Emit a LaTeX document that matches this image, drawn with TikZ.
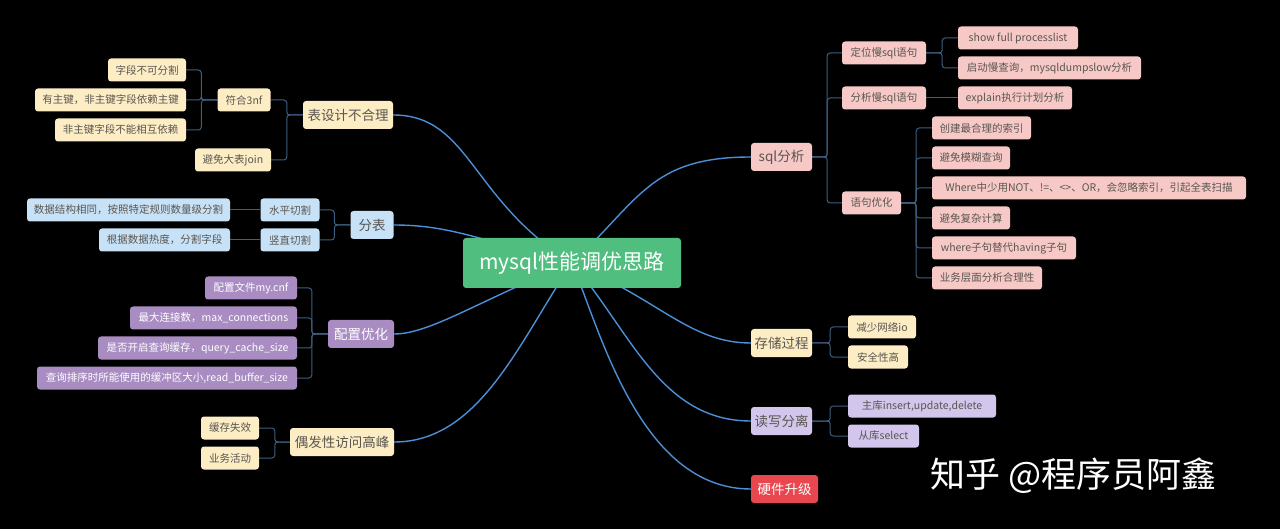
\documentclass[tikz,border=0pt]{standalone}
\usepackage{fontspec}
\setmainfont{Noto Sans CJK SC}
\usetikzlibrary{calc}
\pgfdeclarelayer{back}
\pgfdeclarelayer{bg}
\pgfsetlayers{back,bg,main}
\definecolor{beige}{HTML}{FCEDC5}
\definecolor{lblue}{HTML}{C7E2F7}
\definecolor{purp}{HTML}{A88CC2}
\definecolor{pinkc}{HTML}{F6C9C6}
\definecolor{lav}{HTML}{D3C6EC}
\definecolor{greenc}{HTML}{4FBE7E}
\definecolor{redc}{HTML}{E8474F}
\definecolor{mainln}{HTML}{4A8FD8}
\definecolor{brln}{HTML}{3D5F82}
\definecolor{txt}{HTML}{5A5550}
\begin{document}
\begin{tikzpicture}[x=1pt,y=-1pt,
  box/.style={rounded corners=3pt,inner sep=0pt,minimum height=23pt,text=txt,font=\fontsize{10.5}{12}\selectfont,anchor=center},
  lone/.style={box,minimum height=28pt,font=\fontsize{13.5}{15}\selectfont},
  mln/.style={draw=mainln,line width=1.4pt},
  br/.style={draw=brln,line width=1pt,rounded corners=3pt}]
\begin{pgfonlayer}{back}
\fill[black] (0,0) rectangle (1280,529);
\end{pgfonlayer}
\useasboundingbox (0,0) rectangle (1280,529);
% center
\node[box,fill=greenc,text=white,minimum width=218pt,minimum height=50pt,font=\fontsize{21}{24}\selectfont] (c) at (572,263) {mysql性能调优思路};
% left
\node[lone,fill=beige,minimum width=90pt] (tb) at (348,115) {表设计不合理};
\node[box,fill=beige,minimum width=53pt] (nf) at (244,100) {符合3nf};
\node[box,fill=beige,minimum width=78pt] (a1) at (147,70) {字段不可分割};
\node[box,fill=beige,minimum width=151pt] (a2) at (110.5,100) {有主键，非主键字段依赖主键};
\node[box,fill=beige,minimum width=131pt] (a3) at (120.5,130) {非主键字段不能相互依赖};
\node[box,fill=beige,minimum width=76pt] (a4) at (233,160) {避免大表join};
\node[lone,fill=lblue,minimum width=43pt] (fb) at (372,225) {分表};
\node[box,fill=lblue,minimum width=59pt] (sp) at (290,210) {水平切割};
\node[box,fill=lblue,minimum width=59pt] (cz) at (290,240) {竖直切割};
\node[box,fill=lblue,minimum width=203pt] (b1) at (128.5,210) {数据结构相同，按照特定规则数量级分割};
\node[box,fill=lblue,minimum width=131pt] (b2) at (164.5,240) {根据数据热度，分割字段};
\node[lone,fill=purp,text=white,minimum width=66pt] (pz) at (361,334) {配置优化};
\node[box,fill=purp,text=white,minimum width=92pt] (p1) at (251,288) {配置文件my.cnf};
\node[box,fill=purp,text=white,minimum width=167pt] (p2) at (213.5,318) {最大连接数，max\_connections};
\node[box,fill=purp,text=white,minimum width=199pt] (p3) at (197.5,348) {是否开启查询缓存，query\_cache\_size};
\node[box,fill=purp,text=white,minimum width=260pt] (p4) at (167,378) {查询排序时所能使用的缓冲区大小,read\_buffer\_size};
\node[lone,fill=beige,minimum width=104pt] (of) at (342,442) {偶发性访问高峰};
\node[box,fill=beige,minimum width=58pt] (o1) at (230,428) {缓存失效};
\node[box,fill=beige,minimum width=58pt] (o2) at (230,458) {业务活动};
% right
\node[lone,fill=pinkc,minimum width=61pt] (sq) at (781.5,157) {sql分析};
\node[box,fill=pinkc,minimum width=84pt] (dw) at (884,53) {定位慢sql语句};
\node[box,fill=pinkc,minimum width=120pt] (d1) at (1018,38) {show full processlist};
\node[box,fill=pinkc,minimum width=183pt] (d2) at (1049.5,68) {启动慢查询，mysqldumpslow分析};
\node[box,fill=pinkc,minimum width=84pt] (fx) at (884,98) {分析慢sql语句};
\node[box,fill=pinkc,minimum width=114pt] (f1) at (1015,98) {explain执行计划分析};
\node[box,fill=pinkc,minimum width=59pt] (yj) at (871.5,203) {语句优化};
\node[box,fill=pinkc,minimum width=99pt] (y1) at (981.5,128) {创建最合理的索引};
\node[box,fill=pinkc,minimum width=78pt] (y2) at (971,158) {避免模糊查询};
\node[box,fill=pinkc,minimum width=314pt] (y3) at (1089,188) {Where中少用NOT、!=、<>、OR，会忽略索引，引起全表扫描};
\node[box,fill=pinkc,minimum width=78pt] (y4) at (971,218) {避免复杂计算};
\node[box,fill=pinkc,minimum width=144pt] (y5) at (1004,248) {where子句替代having子句};
\node[box,fill=pinkc,minimum width=110pt] (y6) at (987,278) {业务层面分析合理性};
\node[lone,fill=beige,minimum width=61pt] (cc) at (781.5,343) {存储过程};
\node[box,fill=beige,minimum width=68pt] (c1) at (882,327) {减少网络io};
\node[box,fill=beige,minimum width=60pt] (c2) at (878,357) {安全性高};
\node[lone,fill=lav,minimum width=61pt] (dx) at (781.5,421) {读写分离};
\node[box,fill=lav,minimum width=148pt] (x1) at (922,406) {主库insert,update,delete};
\node[box,fill=lav,minimum width=71pt] (x2) at (883.5,436) {从库select};
\node[lone,fill=redc,text=white,minimum width=67pt] (yj2) at (784.5,489) {硬件升级};
\node[text=white,font=\fontsize{35}{38}\selectfont,anchor=west,inner sep=0pt] (wm) at (930,476) {知乎 @程序员阿鑫};
\begin{pgfonlayer}{bg}
\draw[mln] (c.center) .. controls (470,200) and (470,115) .. (tb.east);
\draw[mln] (c.center) .. controls (480,240) and (450,225) .. (fb.east);
\draw[mln] (c.center) .. controls (480,300) and (430,334) .. (pz.east);
\draw[mln] (c.center) .. controls (520,340) and (480,442) .. (of.east);
\draw[mln] (c.center) .. controls (640,200) and (650,157) .. (sq.west);
\draw[mln] (c.center) .. controls (660,300) and (690,343) .. (cc.west);
\draw[mln] (c.center) .. controls (630,330) and (660,421) .. (dx.west);
\draw[mln] (c.center) .. controls (600,330) and (640,489) .. (yj2.west);
\foreach \ch in {nf,a4} \draw[br] (tb.west) -- ++(-16,0) |- (\ch.east);
\foreach \ch in {a1,a2,a3} \draw[br] (nf.west) -- ++(-16,0) |- (\ch.east);
\foreach \ch in {sp,cz} \draw[br] (fb.west) -- ++(-16,0) |- (\ch.east);
\draw[br] (sp.west) -- (b1.east);
\draw[br] (cz.west) -- (b2.east);
\foreach \ch in {p1,p2,p3,p4} \draw[br] (pz.west) -- ++(-16,0) |- (\ch.east);
\foreach \ch in {o1,o2} \draw[br] (of.west) -- ++(-15,0) |- (\ch.east);
\foreach \ch in {dw,fx,yj} \draw[br] (sq.east) -- ++(15,0) |- (\ch.west);
\foreach \ch in {d1,d2} \draw[br] (dw.east) -- ++(16,0) |- (\ch.west);
\draw[br] (fx.east) -- (f1.west);
\foreach \ch in {y1,y2,y3,y4,y5,y6} \draw[br] (yj.east) -- ++(15,0) |- (\ch.west);
\foreach \ch in {c1,c2} \draw[br] (cc.east) -- ++(18,0) |- (\ch.west);
\foreach \ch in {x1,x2} \draw[br] (dx.east) -- ++(18,0) |- (\ch.west);
\end{pgfonlayer}
\end{tikzpicture}
\end{document}
